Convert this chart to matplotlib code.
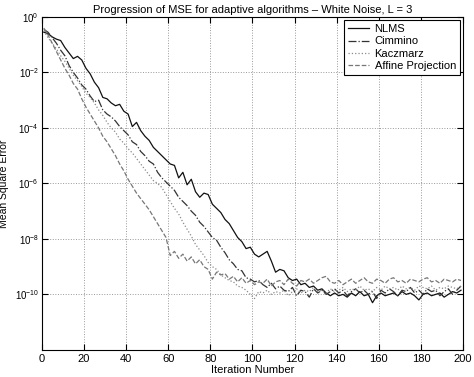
import numpy as np
import matplotlib
matplotlib.use("Agg")
import matplotlib.pyplot as plt

plt.rcParams['font.family'] = ['Liberation Sans', 'DejaVu Sans']
plt.rcParams['mathtext.fontset'] = 'custom'
plt.rcParams['mathtext.rm'] = 'Liberation Sans'
plt.rcParams['mathtext.it'] = 'Liberation Sans'
plt.rcParams['mathtext.default'] = 'regular'

iterations = list(range(1, 200, 2))

# log10 of MSE at odd iterations
nlms_log = [-0.55, -0.60, -0.72, -0.80, -0.85, -1.10, -1.30, -1.50, -1.42, -1.55,
            -1.85, -2.05, -2.35, -2.55, -2.90, -2.95, -3.10, -3.20, -3.15, -3.40,
            -3.50, -3.95, -3.80, -4.10, -4.30, -4.45, -4.70, -4.85, -5.00, -5.15,
            -5.30, -5.35, -5.80, -5.60, -6.05, -5.85, -6.30, -6.50, -6.35, -6.40,
            -6.75, -6.90, -7.05, -7.30, -7.45, -7.70, -7.95, -8.10, -8.35, -8.30,
            -8.55, -8.65, -8.55, -8.45, -8.80, -9.20, -9.10, -9.15, -9.40, -9.50,
            -9.45, -9.65, -9.60, -9.75, -9.70, -9.85, -9.80, -9.95, -10.05, -9.95,
            -10.05, -10.00, -10.10, -9.95, -10.05, -9.90, -10.05, -10.00, -10.30, -10.05,
            -9.95, -10.05, -10.00, -9.95, -10.05, -9.90, -10.00, -9.95, -10.05, -10.20,
            -10.00, -9.95, -10.05, -10.00, -9.95, -10.10, -10.00, -9.90, -9.95, -9.85]

cimmino_log = [-0.45, -0.55, -0.75, -0.95, -1.20, -1.40, -1.75, -2.00, -2.20, -2.45,
               -2.60, -2.85, -3.05, -3.00, -3.35, -3.50, -3.60, -3.75, -3.95, -4.10,
               -4.25, -4.50, -4.60, -4.85, -5.00, -5.20, -5.30, -5.60, -5.80, -5.95,
               -6.10, -6.25, -6.50, -6.65, -6.80, -7.00, -7.15, -7.40, -7.55, -7.75,
               -7.95, -8.05, -8.30, -8.50, -8.75, -8.90, -9.10, -9.15, -9.40, -9.45,
               -9.55, -9.50, -9.65, -9.75, -9.60, -9.80, -9.70, -9.85, -9.90, -9.75,
               -10.05, -9.85, -9.90, -10.10, -9.80, -9.95, -9.85, -10.00, -9.90, -9.80,
               -9.95, -9.85, -10.05, -9.90, -9.80, -9.95, -9.85, -10.00, -9.90, -10.15,
               -9.85, -9.95, -9.80, -9.90, -10.05, -9.85, -9.90, -9.75, -9.95, -9.85,
               -10.00, -9.80, -9.90, -9.85, -10.05, -9.90, -9.80, -10.00, -9.85, -9.70]

kaczmarz_log = [-0.50, -0.75, -0.95, -1.15, -1.40, -1.60, -1.85, -2.10, -2.30, -2.50,
                -2.75, -2.90, -3.10, -3.35, -3.55, -3.80, -4.00, -4.15, -4.40, -4.55,
                -4.75, -4.90, -5.10, -5.30, -5.50, -5.70, -5.90, -6.00, -6.15, -6.40,
                -6.65, -6.90, -7.10, -7.40, -7.65, -7.90, -8.20, -8.40, -8.60, -8.85,
                -9.00, -9.10, -9.30, -9.40, -9.50, -9.55, -9.70, -9.75, -9.85, -10.00,
                -10.15, -9.90, -9.95, -9.85, -10.00, -9.90, -9.95, -9.85, -10.05, -9.90,
                -9.80, -9.95, -9.85, -9.90, -9.75, -9.90, -9.85, -9.95, -9.80, -9.90,
                -9.85, -9.75, -9.90, -9.80, -9.85, -9.70, -9.85, -9.80, -9.90, -9.75,
                -9.85, -9.70, -9.80, -9.75, -9.85, -9.70, -9.80, -9.75, -9.85, -9.70,
                -9.75, -9.80, -9.70, -9.85, -9.75, -9.80, -9.70, -9.75, -9.80, -9.70]

affine_log = [-0.40, -0.65, -0.95, -1.25, -1.55, -1.85, -2.10, -2.40, -2.60, -2.95,
              -3.25, -3.50, -3.75, -4.00, -4.30, -4.50, -4.75, -5.00, -5.30, -5.55,
              -5.85, -6.10, -6.35, -6.55, -6.75, -6.95, -7.20, -7.45, -7.70, -7.95,
              -8.60, -8.45, -8.70, -8.55, -8.80, -8.65, -8.90, -8.75, -9.00, -9.10,
              -9.45, -9.20, -9.30, -9.25, -9.45, -9.35, -9.55, -9.40, -9.60, -9.50,
              -9.65, -9.55, -9.60, -9.45, -9.70, -9.55, -9.50, -9.65, -9.45, -9.60,
              -9.70, -9.50, -9.55, -9.45, -9.60, -9.50, -9.40, -9.35, -9.55, -9.60,
              -9.50, -9.65, -9.55, -9.45, -9.60, -9.50, -9.40, -9.55, -9.60, -9.45,
              -9.50, -9.60, -9.45, -9.40, -9.55, -9.50, -9.60, -9.45, -9.50, -9.55,
              -9.45, -9.40, -9.55, -9.50, -9.60, -9.45, -9.50, -9.55, -9.45, -9.50]

labels = ["NLMS", "Cimmino", "Kaczmarz", "Affine Projection"]
xticks = [0, 20, 40, 60, 80, 100, 120, 140, 160, 180, 200]
ytick_exp = [0, -2, -4, -6, -8, -10]

fig = plt.figure(figsize=(4.74, 3.77), dpi=100)
ax = fig.add_axes([0.088, 0.072, 0.889, 0.883])

x = np.array(iterations)
ax.semilogy(x, 10.0 ** np.array(nlms_log), '-', color='#111111', lw=0.9, label=labels[0])
ax.semilogy(x, 10.0 ** np.array(cimmino_log), '-.', color='#333333', lw=0.9, label=labels[1])
ax.semilogy(x, 10.0 ** np.array(kaczmarz_log), ':', color='#8a8a8a', lw=0.9, label=labels[2])
ax.semilogy(x, 10.0 ** np.array(affine_log), '--', color='#777777', lw=0.9, label=labels[3])

ax.set_xlim(0, 200)
ax.set_ylim(1e-12, 1e0)
ax.set_xticks(xticks)
ax.set_yticks([10.0 ** e for e in ytick_exp])
ax.set_yticklabels([r'$10^{%d}$' % e for e in ytick_exp])
ax.minorticks_off()
ax.tick_params(direction='in', top=True, right=True, labelsize=8, length=4, pad=3)
ax.tick_params(axis='y', labelsize=7, pad=2)
ax.grid(True, linestyle=':', color='#999999', lw=0.7)
for s in ax.spines.values():
    s.set_linewidth(0.8)

ax.set_title("Progression of MSE for adaptive algorithms \u2013 White Noise, L = 3", fontsize=8, pad=3)
ax.set_xlabel("Iteration Number", fontsize=8, labelpad=1)
ax.set_ylabel("Mean Square Error", fontsize=7.5)
ax.yaxis.set_label_coords(-0.078, 0.5)

leg = ax.legend(loc='upper right', fontsize=8, fancybox=False, framealpha=1,
                edgecolor='black', handlelength=1.9, borderpad=0.35, labelspacing=0.2,
                borderaxespad=0.3, handletextpad=0.5)
leg.get_frame().set_linewidth(0.8)

fig.savefig("out.png", dpi=100)
